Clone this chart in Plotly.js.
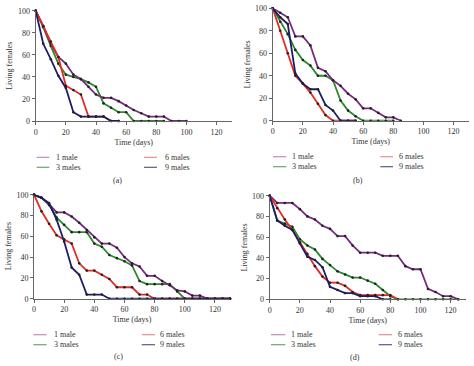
<!DOCTYPE html>
<html>
<head>
<meta charset="utf-8">
<script src="https://cdn.plot.ly/plotly-3.0.1.min.js"></script>
<style>html,body{margin:0;padding:0;background:#fff;}#chart{width:474px;height:366px;}</style>
</head>
<body>
<div id="chart"></div>
<script>
// Time axis (days), sampled every 5 days
const days = [0,5,10,15,20,25,30,35,40,45,50,55,60,65,70,75,80,85,90,95,100,105,110,115,120,125,130];
const seriesNames = ['1 male', '3 males', '6 males', '9 males'];
const panelLabels = ['(a)', '(b)', '(c)', '(d)'];
const xTicks = [0, 20, 40, 60, 80, 100, 120];
const yTicks = [0, 20, 40, 60, 80, 100];
const xTitle = 'Time (days)';
const yTitle = 'Living females';

// Panel (a): living females (%)
const a_1male  = [100,86,70,58,52,42,38,31,24,21,21,18,14,10,7,4,4,4,0,0,0];
const a_3males = [100,85,68,52,42,40,38,35,31,16,12,8,8,0,0,0,0,0];
const a_6males = [100,86,72,58,32,28,24,4,4,4,0,0];
const a_9males = [100,70,56,41,30,8,4,4,4,4,0,0];
// Panel (b)
const b_1male  = [100,96,92,75,75,67,47,44,36,31,24,19,11,11,7,3,3,0];
const b_3males = [100,88,77,63,54,49,40,40,36,18,9,4,0,0,0,0,0];
const b_6males = [100,80,60,40,33,25,15,5,0,0,0,0];
const b_9males = [100,92,86,42,33,28,28,14,9,0,0,0];
// Panel (c)
const c_1male  = [100,97,91,83,83,79,73,66,59,53,53,49,40,34,31,22,22,17,13,8,7,3,3,0,0,0,0];
const c_3males = [100,97,90,78,71,64,64,64,53,50,42,39,36,32,17,14,14,14,14,7,0,0,0,0,0,0,0];
const c_6males = [100,84,72,61,57,53,34,27,27,23,19,11,11,11,4,4,0,0,0,0,0,0,0,0,0,0,0];
const c_9males = [100,97,92,76,55,30,23,4,4,4,0,0,0,0,0,0,0,0,0,0,0,0,0,0,0,0,0];
// Panel (d)
const d_1male  = [100,93,93,93,87,80,77,71,68,61,61,52,45,45,45,42,42,42,32,29,29,10,7,3,3,0];
const d_3males = [100,76,73,70,58,52,48,39,33,27,24,21,21,18,15,9,3,0,0,0,0,0,0,0,0,0];
const d_6males = [100,88,77,67,55,44,32,22,16,16,13,7,4,4,4,4,4,0];
const d_9males = [100,76,71,67,54,41,38,31,12,9,6,6,3,3,3,0,0];

const panels = [
  [a_1male, a_3males, a_6males, a_9males],
  [b_1male, b_3males, b_6males, b_9males],
  [c_1male, c_3males, c_6males, c_9males],
  [d_1male, d_3males, d_6males, d_9males]
];

// ---- styling / layout ----
const W = 474, H = 366;
const px = x => x / W;
const py = y => 1 - y / H;
const lineColors = ['#7b2a82', '#2a8a2a', '#e32b24', '#1c1c6b'];
const legendColors = ['#c58bbd', '#6aa86a', '#e58f8f', '#5a5a8a'];
const drawOrder = [1, 0, 2, 3];
const FONT = 'Liberation Serif, Times New Roman, serif';

// plot boxes in pixels: [x0, x130, yTop(100), yBottom(0)]
const boxes = [
  [35.7, 231.7, 10.7, 121],
  [272.7, 468.7, 8.3, 120.7],
  [34, 230, 194.7, 298.7],
  [269.7, 465.7, 195.7, 299.3]
];
const yTitleX = [10, 247, 8.5, 244];
const legendPos = [
  {rows: [157.3, 167.3], cols: [[36.7, 49.3, 54.3], [144, 157, 163]]},
  {rows: [156.7, 166.7], cols: [[273, 286.3, 290.3], [380.3, 393, 397]]},
  {rows: [334.7, 344.7], cols: [[33.3, 46.7, 51.7], [141.7, 155, 158.3]]},
  {rows: [334.7, 344.7], cols: [[271, 285.3, 288.7], [378.7, 392, 396.3]]}
];
const labelPos = [[117.7, 180.3], [357.7, 180.3], [118.3, 356.3], [355.3, 357.5]];

const traces = [];
const layout = {
  width: W, height: H,
  margin: {l: 0, r: 0, t: 0, b: 0},
  paper_bgcolor: '#fff', plot_bgcolor: 'rgba(0,0,0,0)',
  showlegend: false,
  font: {family: FONT, size: 8, color: '#333'},
  annotations: [], shapes: []
};

panels.forEach((series, p) => {
  const n = p + 1;
  const xa = 'x' + (n === 1 ? '' : n), ya = 'y' + (n === 1 ? '' : n);
  const b = boxes[p];
  drawOrder.forEach(s => {
    const vals = series[s];
    traces.push({
      type: 'scatter', mode: 'lines+markers',
      x: days.slice(0, vals.length), y: vals,
      name: seriesNames[s], xaxis: xa, yaxis: ya,
      line: {color: lineColors[s], width: 1.8},
      marker: {size: 2.6, color: '#222'},
      cliponaxis: false, hoverinfo: 'skip'
    });
  });
  const axCommon = {
    showline: true, linecolor: '#666', linewidth: 1,
    ticks: 'outside', ticklen: 3, tickcolor: '#666', tickwidth: 1,
    showgrid: false, zeroline: false, fixedrange: true,
    tickfont: {family: FONT, size: 8, color: '#333'}
  };
  layout['xaxis' + (n === 1 ? '' : n)] = Object.assign({}, axCommon, {
    domain: [px(b[0]), px(b[1])], range: [0, 130], anchor: ya,
    tickvals: xTicks, ticktext: xTicks.map(String),
    title: {text: xTitle, font: {family: FONT, size: 8, color: '#333'}, standoff: 3}
  });
  layout['yaxis' + (n === 1 ? '' : n)] = Object.assign({}, axCommon, {
    domain: [py(b[3]), py(b[2])], range: [0, 100], anchor: xa,
    tickvals: yTicks, ticktext: yTicks.map(String)
  });
  // y-axis title
  layout.annotations.push({xref: 'paper', yref: 'paper', x: px(yTitleX[p]), y: py((b[2] + b[3]) / 2),
    xanchor: 'center', yanchor: 'middle', showarrow: false, textangle: -90, text: yTitle,
    font: {family: FONT, size: 8, color: '#333'}});
  // legend (two columns: 1 male / 3 males, 6 males / 9 males)
  const lp = legendPos[p];
  seriesNames.forEach((name, s) => {
    const col = lp.cols[Math.floor(s / 2)];
    const rowY = lp.rows[s % 2];
    layout.shapes.push({type: 'line', xref: 'paper', yref: 'paper',
      x0: px(col[0]), x1: px(col[1]), y0: py(rowY), y1: py(rowY),
      line: {color: legendColors[s], width: 1.2}});
    layout.annotations.push({xref: 'paper', yref: 'paper', x: px(col[2]), y: py(rowY),
      xanchor: 'left', yanchor: 'middle', showarrow: false, text: name,
      font: {family: FONT, size: 8, color: '#333'}});
  });
  layout.annotations.push({xref: 'paper', yref: 'paper', x: px(labelPos[p][0]), y: py(labelPos[p][1]),
    xanchor: 'center', yanchor: 'middle', showarrow: false, text: panelLabels[p],
    font: {family: FONT, size: 8, color: '#333'}});
});

Plotly.newPlot('chart', traces, layout, {displayModeBar: false, staticPlot: true});
</script>
</body>
</html>
